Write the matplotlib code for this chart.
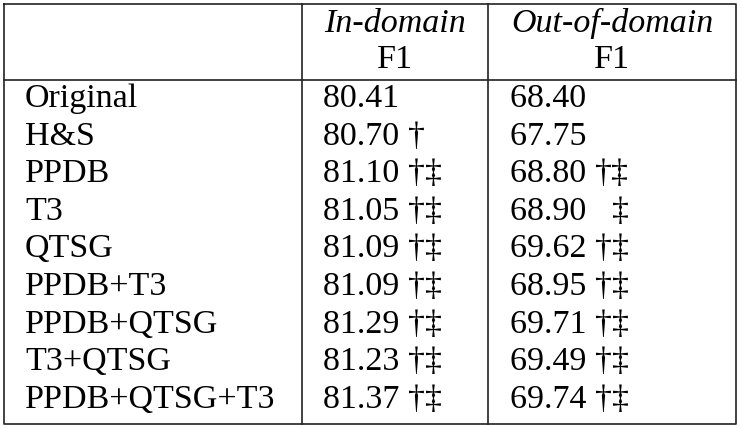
import matplotlib
matplotlib.use("Agg")
from matplotlib import pyplot as plt

# table contents
methods = ["Original", "H&S", "PPDB", "T3", "QTSG", "PPDB+T3",
           "PPDB+QTSG", "T3+QTSG", "PPDB+QTSG+T3"]
in_f1 = ["80.41", "80.70", "81.10", "81.05", "81.09", "81.09", "81.29", "81.23", "81.37"]
out_f1 = ["68.40", "67.75", "68.80", "68.90", "69.62", "68.95", "69.71", "69.49", "69.74"]
# significance marks: (dagger, double dagger)
in_marks = [(0, 0), (1, 0), (1, 1), (1, 1), (1, 1), (1, 1), (1, 1), (1, 1), (1, 1)]
out_marks = [(0, 0), (0, 0), (1, 1), (0, 1), (1, 1), (1, 1), (1, 1), (1, 1), (1, 1)]
headers = [("In-domain", "F1"), ("Out-of-domain", "F1")]

W, H = 742, 429
fig = plt.figure(figsize=(W / 100, H / 100), dpi=100)
ax = fig.add_axes([0, 0, 1, 1])
ax.set_xlim(0, W)
ax.set_ylim(H, 0)
ax.axis("off")

plt.rcParams["font.family"] = ["Liberation Serif", "DejaVu Serif"]
fs = 24.5

# grid lines
left, right, top, bottom = 4, 736, 4, 424
col1, col2 = 302, 488
head_line = 80
lw = 1.2
ax.plot([left, right, right, left, left], [top, top, bottom, bottom, top], color="#222222", lw=lw)
ax.plot([col1, col1], [top, bottom], color="#222222", lw=lw)
ax.plot([col2, col2], [top, bottom], color="#222222", lw=lw)
ax.plot([left, right], [head_line, head_line], color="#222222", lw=lw)

# header
centers = [(col1 + col2) / 2, (col2 + right) / 2]
for (name, metric), cx in zip(headers, centers):
    ax.text(cx, 32, name, fontsize=fs, style="italic", ha="center", va="baseline")
    ax.text(cx, 68, metric, fontsize=fs, ha="center", va="baseline")

# rows
row0, pitch = 107, 37.6


def value_cell(x, y, val, marks):
    base = ax.text(x, y, val + " ", fontsize=fs, ha="left", va="baseline")
    dag, ddag = marks
    if not (dag or ddag):
        return
    ph = ax.text(x, y, val + " †", fontsize=fs, ha="left", va="baseline", alpha=0)
    if dag:
        ax.annotate("†", xy=(1, 0), xycoords=base, fontsize=fs, ha="left", va="bottom")
    if ddag:
        ax.annotate("‡", xy=(1, 0), xycoords=ph, fontsize=fs, ha="left", va="bottom")


for i, m in enumerate(methods):
    y = row0 + i * pitch
    ax.text(25, y, m, fontsize=fs, ha="left", va="baseline")
    value_cell(323, y, in_f1[i], in_marks[i])
    value_cell(510, y, out_f1[i], out_marks[i])

fig.savefig("out.png", dpi=100, facecolor="white")
